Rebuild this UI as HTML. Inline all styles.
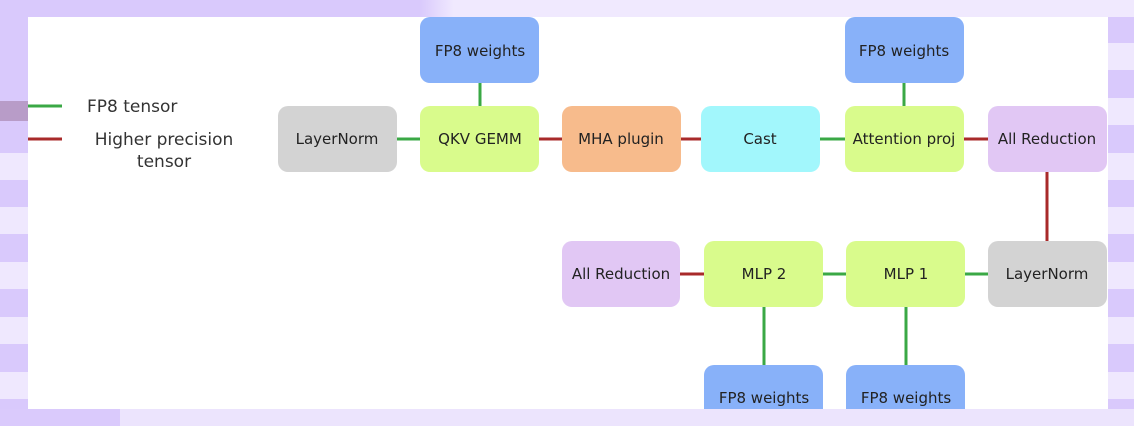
<!DOCTYPE html>
<html><head><meta charset="utf-8"><style>
html,body{margin:0;padding:0;width:1134px;height:426px;overflow:hidden;background:#d9c9fc;}
</style></head><body>
<svg width="1134" height="426" xmlns="http://www.w3.org/2000/svg" font-family="'DejaVu Sans','Liberation Sans',sans-serif">
<defs>
<linearGradient id="tg" x1="0" x2="1" y1="0" y2="0">
<stop offset="0" stop-color="#d9c9fc"/><stop offset="0.37" stop-color="#d9c9fc"/><stop offset="0.40" stop-color="#f0e9fe"/><stop offset="1" stop-color="#f0e9fe"/>
</linearGradient>
</defs>
<rect width="1134" height="17" fill="url(#tg)"/>
<g fill="#efe8fe">
<rect x="0" y="153" width="28" height="27"/><rect x="0" y="207" width="28" height="27"/><rect x="0" y="262" width="28" height="27"/><rect x="0" y="317" width="28" height="27"/><rect x="0" y="372" width="28" height="27"/>
<rect x="1108" y="43" width="26" height="27"/><rect x="1108" y="98" width="26" height="27"/><rect x="1108" y="153" width="26" height="27"/><rect x="1108" y="207" width="26" height="27"/><rect x="1108" y="262" width="26" height="27"/><rect x="1108" y="317" width="26" height="27"/><rect x="1108" y="372" width="26" height="27"/>
</g>
<rect x="0" y="101" width="28" height="20" fill="#b89cc8"/>
<rect x="28" y="17" width="1080" height="392" fill="#fff"/>
<line x1="28" y1="106" x2="62" y2="106" stroke="#3aa845" stroke-width="3"/>
<line x1="28" y1="139" x2="62" y2="139" stroke="#a82a2a" stroke-width="3"/>
<g font-size="17" fill="#333">
<text x="87" y="112">FP8 tensor</text>
<text x="164" y="145" text-anchor="middle">Higher precision</text>
<text x="164" y="167" text-anchor="middle">tensor</text>
</g>
<g stroke-width="3">
<line x1="397" y1="139" x2="420" y2="139" stroke="#3aa845"/>
<line x1="480" y1="83" x2="480" y2="106" stroke="#3aa845"/>
<line x1="539" y1="139" x2="562" y2="139" stroke="#a82a2a"/>
<line x1="681" y1="139" x2="701" y2="139" stroke="#a82a2a"/>
<line x1="820" y1="139" x2="845" y2="139" stroke="#3aa845"/>
<line x1="904" y1="83" x2="904" y2="106" stroke="#3aa845"/>
<line x1="963" y1="139" x2="988" y2="139" stroke="#a82a2a"/>
<line x1="1047" y1="172" x2="1047" y2="241" stroke="#a82a2a"/>
<line x1="965" y1="274" x2="988" y2="274" stroke="#3aa845"/>
<line x1="823" y1="274" x2="846" y2="274" stroke="#3aa845"/>
<line x1="680" y1="274" x2="704" y2="274" stroke="#a82a2a"/>
<line x1="764" y1="307" x2="764" y2="365" stroke="#3aa845"/>
<line x1="906" y1="307" x2="906" y2="365" stroke="#3aa845"/>
</g>
<g>
<rect x="420" y="17" width="119" height="66" rx="10" fill="#88b1f9"/>
<rect x="845" y="17" width="119" height="66" rx="10" fill="#88b1f9"/>
<rect x="278" y="106" width="119" height="66" rx="10" fill="#d3d3d3"/>
<rect x="420" y="106" width="119" height="66" rx="10" fill="#d9fb8c"/>
<rect x="562" y="106" width="119" height="66" rx="10" fill="#f7bb8c"/>
<rect x="701" y="106" width="119" height="66" rx="10" fill="#a2f7fc"/>
<rect x="845" y="106" width="119" height="66" rx="10" fill="#d9fb8c"/>
<rect x="988" y="106" width="119" height="66" rx="10" fill="#e1c7f4"/>
<rect x="562" y="241" width="118" height="66" rx="10" fill="#e1c7f4"/>
<rect x="704" y="241" width="119" height="66" rx="10" fill="#d9fb8c"/>
<rect x="846" y="241" width="119" height="66" rx="10" fill="#d9fb8c"/>
<rect x="988" y="241" width="119" height="66" rx="10" fill="#d3d3d3"/>
<rect x="704" y="365" width="119" height="66" rx="10" fill="#88b1f9"/>
<rect x="846" y="365" width="119" height="66" rx="10" fill="#88b1f9"/>
</g>
<rect x="0" y="409" width="1134" height="17" fill="#ece4fd"/>
<rect x="0" y="409" width="120" height="17" fill="#dacafc"/>
<g font-size="15" fill="#222" text-anchor="middle">
<text x="480" y="56">FP8 weights</text>
<text x="904" y="56">FP8 weights</text>
<text x="337" y="144">LayerNorm</text>
<text x="480" y="144">QKV GEMM</text>
<text x="621" y="144">MHA plugin</text>
<text x="760" y="144">Cast</text>
<text x="904" y="144">Attention proj</text>
<text x="1047" y="144">All Reduction</text>
<text x="621" y="279">All Reduction</text>
<text x="764" y="279">MLP 2</text>
<text x="906" y="279">MLP 1</text>
<text x="1047" y="279">LayerNorm</text>
<text x="764" y="403">FP8 weights</text>
<text x="906" y="403">FP8 weights</text>
</g>
</svg>
</body></html>
